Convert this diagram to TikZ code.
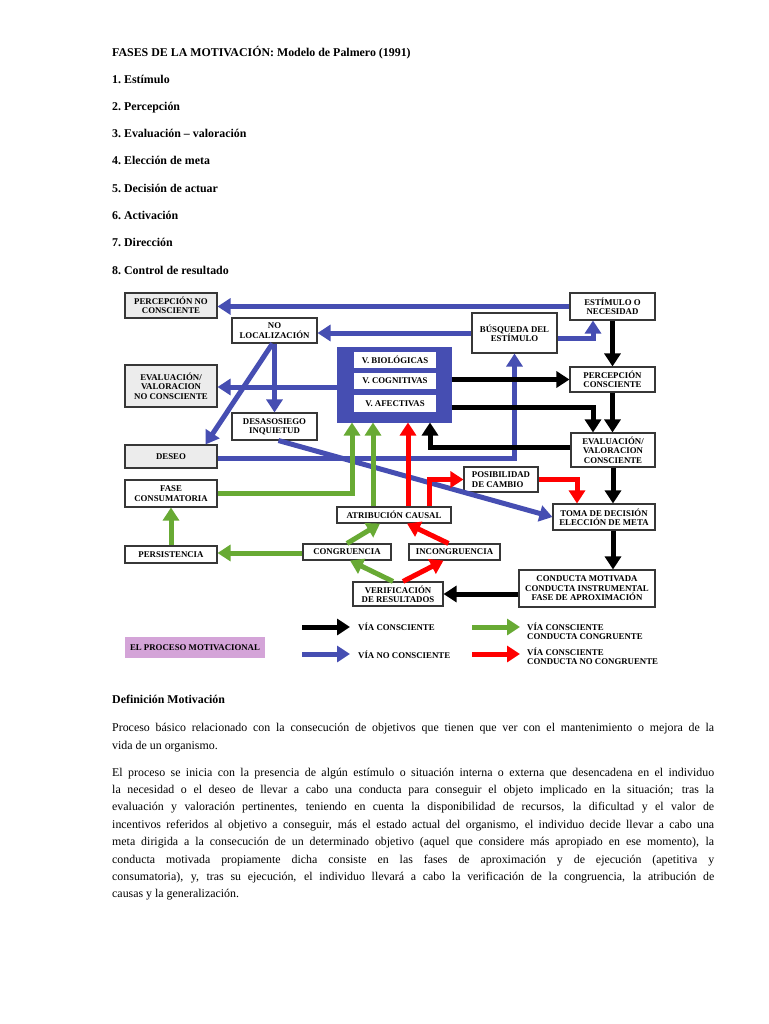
\documentclass[tikz,border=0pt]{standalone}
\usepackage{fontspec}
\setmainfont{Liberation Serif}
\usetikzlibrary{arrows.meta,calc}
\definecolor{mblue}{RGB}{70,78,178}
\definecolor{mgreen}{RGB}{104,170,52}
\definecolor{mred}{RGB}{255,0,0}
\definecolor{mgray}{RGB}{236,236,236}
\definecolor{mpurple}{RGB}{212,164,216}
\definecolor{boxline}{RGB}{55,55,55}
\newcommand{\bxfont}{\fontsize{8.8}{9.4}\selectfont\bfseries}
\newcommand{\txfont}{\fontsize{11.9}{17.4}\selectfont}
\newcommand{\jline}[1]{\makebox[602pt][s]{#1}}
\begin{document}
\begin{tikzpicture}[x=1pt,y=-1pt,
  box/.style={draw=boxline, line width=1.1pt, fill=white, inner sep=0pt, align=center, font=\bxfont},
  gbox/.style={box, fill=mgray},
  vbx/.style={box, draw=white, minimum width=80pt, minimum height=14pt},
  arr/.style={line width=5pt, -{Triangle[width=16pt,length=13pt]}},
  barr/.style={arr, draw=mblue},
  karr/.style={arr, draw=black},
  garr/.style={arr, draw=mgreen},
  rarr/.style={arr, draw=mred},
  txt/.style={anchor=base west, inner sep=0pt, font=\txfont},
  btxt/.style={txt, font=\txfont\bfseries},
  lgtxt/.style={anchor=west, inner sep=0pt, align=left, font=\bxfont}
]
\useasboundingbox (0,0) rectangle (768,1024);
\fill[white] (0,0) rectangle (768,1024);

% ---------- heading text ----------
\node[btxt] (t0) at (112,56.7) {FASES DE LA MOTIVACIÓN: Modelo de Palmero (1991)};
\node[btxt] (t1) at (112,83.3) {1.\ Estímulo};
\node[btxt] (t2) at (112,110.5) {2.\ Percepción};
\node[btxt] (t3) at (112,138) {3.\ Evaluación – valoración};
\node[btxt] (t4) at (112,165) {4.\ Elección de meta};
\node[btxt] (t5) at (112,192.5) {5.\ Decisión de actuar};
\node[btxt] (t6) at (112,219.5) {6.\ Activación};
\node[btxt] (t7) at (112,247) {7.\ Dirección};
\node[btxt] (t8) at (112,274) {8.\ Control de resultado};

% ---------- boxes ----------
\node[gbox, minimum width=92pt, minimum height=25pt] (pnc) at (171,305.5) {PERCEPCIÓN NO\\CONSCIENTE};
\node[box, minimum width=85pt, minimum height=25pt] (noloc) at (274.5,330.5) {NO\\LOCALIZACIÓN};
\node[gbox, minimum width=92pt, minimum height=42pt] (enc) at (171,386) {EVALUACIÓN/\\VALORACION\\NO CONSCIENTE};
\node[box, minimum width=85pt, minimum height=27pt] (desa) at (274.5,426.5) {DESASOSIEGO\\INQUIETUD};
\node[gbox, minimum width=92pt, minimum height=23pt] (deseo) at (171,456.5) {DESEO};
\node[box, minimum width=92pt, minimum height=27pt] (fase) at (171,493.5) {FASE\\CONSUMATORIA};
\node[box, minimum width=92pt, minimum height=17pt] (pers) at (171,554.5) {PERSISTENCIA};
\node[box, minimum width=85pt, minimum height=27pt] (est) at (612.5,306.5) {ESTÍMULO O\\NECESIDAD};
\node[box, minimum width=85pt, minimum height=40pt] (busq) at (514.5,333) {BÚSQUEDA DEL\\ESTÍMULO};
\node[draw=mblue, fill=mblue, line width=1pt, minimum width=114pt, minimum height=75pt, inner sep=0pt] (vbox) at (394,384.5) {};
\node[box, minimum width=85pt, minimum height=25pt] (pc) at (612.5,379.5) {PERCEPCIÓN\\CONSCIENTE};
\node[box, minimum width=84pt, minimum height=34pt] (ec) at (613,450) {EVALUACIÓN/\\VALORACION\\CONSCIENTE};
\node[box, minimum width=74pt, minimum height=25pt, align=left] (posib) at (501,479.5) {POSIBILIDAD\\DE CAMBIO};
\node[box, minimum width=102pt, minimum height=26pt] (toma) at (604,517) {TOMA DE DECISIÓN\\ELECCIÓN DE META};
\node[box, minimum width=136pt, minimum height=37pt] (cond) at (587,588.5) {CONDUCTA MOTIVADA\\CONDUCTA INSTRUMENTAL\\FASE DE APROXIMACIÓN};
\node[box, minimum width=114pt, minimum height=16pt] (atrib) at (394,515) {ATRIBUCIÓN CAUSAL};
\node[box, minimum width=88pt, minimum height=16pt] (congr) at (347,552) {CONGRUENCIA};
\node[box, minimum width=91pt, minimum height=16pt] (incon) at (454.5,552) {INCONGRUENCIA};
\node[box, minimum width=90pt, minimum height=24pt] (verif) at (398,594) {VERIFICACIÓN\\DE RESULTADOS};

% ---------- blue arrows ----------
\draw[barr] (est.west) -- (est.west -| pnc.east);
\draw[barr] (busq.west) -- (busq.west -| noloc.east);
\draw[barr] ($(busq.east)+(0,5)$) -| ($(est.south)+(-19.5,0)$);
\draw[barr] ($(deseo.east)+(0,1.5)$) -| (busq.south);
\draw[barr] (noloc.south) -- (desa.north);
\draw[barr] ($(noloc.south)+(-2,0)$) -- ($(deseo.north east)+(-12,0)$);
\draw[barr] ($(vbox.west)+(0,2.5)$) -- ($(vbox.west -| enc.east)+(0,2.5)$);
\draw[barr] ($(desa.south)+(4,0)$) -- (toma.west);

% ---------- green arrows ----------
\draw[garr] (fase.east) -| ($(vbox.south)+(-42,0)$);
\draw[garr] ($(atrib.north)+(-21,0)$) -- ($(vbox.south)+(-21,0)$);
\draw[garr] (pers.north) -- (fase.south);
\draw[garr] ($(congr.west)+(0,1)$) -- ($(congr.west -| pers.east)+(0,1)$);
\draw[garr] (congr.north) -- ($(atrib.south)+(-14,0)$);
\draw[garr] ($(verif.north)+(-5,0)$) -- ($(congr.south)+(3,0)$);

% ---------- red arrows ----------
\draw[rarr] ($(atrib.north)+(14,0)$) -- ($(vbox.south)+(14,0)$);
\draw[rarr] ($(atrib.north)+(35,0)$) |- (posib.west);
\draw[rarr] (posib.east) -| ($(toma.north)+(-27,0)$);
\draw[rarr] ($(incon.north)+(-6,0)$) -- ($(atrib.south)+(13,0)$);
\draw[rarr] ($(verif.north)+(5,0)$) -- ($(incon.south)+(-11,0)$);

% ---------- black arrows ----------
\draw[karr] (est.south) -- (pc.north);
\draw[karr] (pc.south) -- (pc.south |- ec.north);
\draw[karr] (vbox.east |- pc.west) -- (pc.west);
\draw[karr] ($(vbox.east)+(0,22.5)$) -| ($(ec.north)+(-20,0)$);
\draw[karr] ($(ec.west)+(0,-3)$) -| ($(vbox.south)+(36,0)$);
\draw[karr] (ec.south) -- (ec.south |- toma.north);
\draw[karr] (ec.south |- toma.south) -- (ec.south |- cond.north);
\draw[karr] (verif.east -| cond.west) -- (verif.east);

% ---------- variables inside blue box ----------
\node[vbx] (vbio) at (395,360) {V. BIOLÓGICAS};
\node[vbx] (vcog) at (395,381) {V. COGNITIVAS};
\node[vbx, minimum height=15pt] (vafe) at (395,403.5) {V. AFECTIVAS};

% ---------- legend ----------
\node[fill=mpurple, minimum width=140pt, minimum height=21pt, inner sep=0pt, font=\bxfont] (leg) at (195,647.5) {EL PROCESO MOTIVACIONAL};
\coordinate (lk1) at (302,627); \coordinate (lk2) at (350,627);
\coordinate (lb1) at (302,654); \coordinate (lb2) at (350,654);
\coordinate (lg1) at (472,627); \coordinate (lg2) at (520,627);
\coordinate (lr1) at (472,654); \coordinate (lr2) at (520,654);
\draw[karr] (lk1) -- (lk2);
\draw[barr] (lb1) -- (lb2);
\draw[garr] (lg1) -- (lg2);
\draw[rarr] (lr1) -- (lr2);
\node[lgtxt] (lkt) at (358,627) {VÍA CONSCIENTE};
\node[lgtxt] (lbt) at (358,655) {VÍA NO CONSCIENTE};
\node[lgtxt] (lgt) at (527,631) {VÍA CONSCIENTE\\CONDUCTA CONGRUENTE};
\node[lgtxt] (lrt) at (527,656.5) {VÍA CONSCIENTE\\CONDUCTA NO CONGRUENTE};

% ---------- body text ----------
\node[btxt] (h2) at (112,703.7) {Definición Motivación};
\node[txt] (p1) at (112,731.3) {\jline{Proceso básico relacionado con la consecución de objetivos que tienen que ver con el mantenimiento o mejora de la}};
\node[txt] (p2) at (112,749) {vida de un organismo.};
\node[txt] (q1) at (112,776) {\jline{El proceso se inicia con la presencia de algún estímulo o situación interna o externa que desencadena en el individuo}};
\node[txt] (q2) at (112,793.4) {\jline{la necesidad o el deseo de llevar a cabo una conducta para conseguir el objeto implicado en la situación; tras la}};
\node[txt] (q3) at (112,810.8) {\jline{evaluación y valoración pertinentes, teniendo en cuenta la disponibilidad de recursos, la dificultad y el valor de}};
\node[txt] (q4) at (112,828.2) {\jline{incentivos referidos al objetivo a conseguir, más el estado actual del organismo, el individuo decide llevar a cabo una}};
\node[txt] (q5) at (112,845.6) {\jline{meta dirigida a la consecución de un determinado objetivo (aquel que considere más apropiado en ese momento), la}};
\node[txt] (q6) at (112,863) {\jline{conducta motivada propiamente dicha consiste en las fases de aproximación y de ejecución (apetitiva y}};
\node[txt] (q7) at (112,880.4) {\jline{consumatoria), y, tras su ejecución, el individuo llevará a cabo la verificación de la congruencia, la atribución de}};
\node[txt] (q8) at (112,897.8) {causas y la generalización.};
\end{tikzpicture}
\end{document}
